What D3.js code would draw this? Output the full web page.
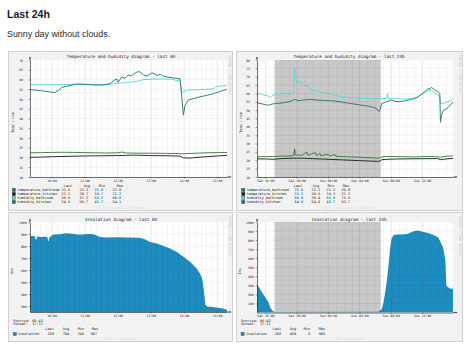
<!DOCTYPE html>
<html>
<head>
<meta charset="utf-8">
<title>Last 24h</title>
<script src="https://cdn.jsdelivr.net/npm/d3@7"></script>
<style>
  body { margin: 0; background: #fff; }
  svg { display: block; }
</style>
</head>
<body>
<svg id="page" width="474" height="348"></svg>
<script>
// ---------- data ----------
const pageTitle = "Last 24h";
const pageNote = "Sunny day without clouds.";

const seriesNames = ["temperature_bathroom", "temperature_kitchen", "humidity_bathroom", "humidity_kitchen"];
const seriesColors = ["#2a7a35", "#1a1a1a", "#4fdcdc", "#2d6f70"];
const insolationColor = "#1d8dbf";

const ticks6h = ["10:00", "11:00", "12:00", "13:00", "14:00", "15:00"];
const ticks24h = ["Sat 16:00", "Sat 20:00", "Sun 00:00", "Sun 04:00", "Sun 08:00", "Sun 12:00"];
const range6h = ["09:21", "15:18"];
const range24h = ["Sat 14:56", "Sun 15:56"];
const night = ["Sat 17:11", "Sun 06:43"];
const sunrise = "06:43";
const sunset = "17:11";

const yTicksTH6 = [10, 15, 20, 25, 30, 35, 40, 45, 50, 55, 60, 65, 70];
const yTicksTH24 = [10, 15, 20, 25, 30, 35, 40, 45, 50, 55, 60, 65, 70, 75, 80];
const yTicksIns6 = [300, 400, 500, 600, 700, 800, 900, 1000];
const yTicksIns24 = [100, 200, 300, 400, 500, 600, 700, 800, 900, 1000];

// legend statistics: Last, Avg, Min, Max
const stats6h = [
  ["22.6", "22.3", "21.9", "22.8"],
  ["21.1", "20.7", "19.7", "21.2"],
  ["56.9", "57.2", "53.2", "60.6"],
  ["54.9", "56.7", "41.7", "64.1"]
];
const stats24h = [
  ["22.6", "22.3", "21.3", "26.8"],
  ["21.1", "20.6", "19.3", "21.3"],
  ["56.9", "58.4", "53.9", "75.6"],
  ["54.9", "54.9", "42.7", "63.7"]
];
const insStats6h = ["268", "784", "246", "907"];
const insStats24h = ["268", "450", "5", "905"];

// --- last 6h ---
const tempBath6 = [["09:21",22.4],["09:40",22.5],["10:00",22.6],["10:20",22.7],["10:40",22.6],["11:00",22.5],["11:20",22.4],["11:40",22.3],["12:00",22.4],["12:08",22.8],["12:15",22.3],["12:40",22.2],["13:00",22.2],["13:30",22.1],["13:50",22.0],["14:00",21.9],["14:20",22.2],["14:40",22.4],["15:00",22.5],["15:18",22.6]];
const tempKitch6 = [["09:21",20.1],["09:40",20.2],["10:00",20.4],["10:30",20.6],["11:00",20.8],["11:30",20.9],["12:00",21.0],["12:30",21.2],["13:00",21.0],["13:30",20.9],["13:53",20.7],["13:59",19.8],["14:10",19.7],["14:30",20.2],["15:00",20.8],["15:18",21.1]];
const humBath6 = [["09:21",57.3],["10:00",57.3],["10:30",57.4],["11:00",57.5],["11:30",57.4],["11:46",57.5],["12:00",58.0],["12:20",58.6],["12:40",59.3],["12:47",60.0],["13:00",60.2],["13:20",60.3],["13:40",60.2],["13:44",59.6],["13:53",59.2],["13:56",53.2],["14:00",54.0],["14:08",54.6],["14:30",54.8],["14:54",55.2],["14:58",56.4],["15:18",56.9]];
const humKitch6 = [["09:21",54.8],["09:40",54.3],["09:57",53.6],["10:06",53.3],["10:12",54.2],["10:18",55.9],["10:27",56.5],["10:45",57.7],["10:58",57.6],["11:16",57.2],["11:34",57.2],["11:46",57.9],["11:52",59.3],["11:58",60.3],["12:01",58.6],["12:07",61.3],["12:13",60.6],["12:19",62.3],["12:25",62.0],["12:34",63.7],["12:39",64.1],["12:47",62.3],["12:53",61.7],["13:02",63.4],["13:06",63.0],["13:11",62.0],["13:17",62.7],["13:23",61.7],["13:29",61.3],["13:41",60.8],["13:53",60.3],["13:56",51.1],["13:59",41.7],["14:02",46.8],["14:08",49.4],["14:17",50.2],["14:29",51.1],["14:42",51.9],["14:54",52.8],["15:03",53.6],["15:12",54.5],["15:18",54.9]];
const ins6 = [["09:21",881],["09:27",885],["09:30",878],["09:32",848],["09:34",880],["09:42",875],["09:48",880],["09:53",870],["09:54",834],["09:56",870],["10:03",895],["10:15",897],["10:27",907],["10:40",900],["10:51",893],["11:00",897],["11:10",900],["11:16",897],["11:28",875],["11:40",870],["12:00",872],["12:20",870],["12:38",868],["12:47",860],["12:59",834],["13:11",820],["13:23",800],["13:35",780],["13:47",750],["13:59",710],["14:11",668],["14:23",612],["14:29",570],["14:33",530],["14:36",432],["14:39",308],["14:42",295],["14:54",290],["15:06",283],["15:12",277],["15:18",268]];

// --- last 24h ---
const tempBath24 = [["Sat 14:56",22.0],["Sat 16:00",22.2],["Sat 17:04",22.3],["Sat 18:00",22.5],["Sat 19:00",22.6],["Sat 19:36",22.8],["Sat 19:44",26.8],["Sat 19:50",23.2],["Sat 20:40",23.0],["Sat 21:18",24.8],["Sat 21:25",23.0],["Sat 22:21",24.6],["Sat 22:28",22.9],["Sat 22:59",24.0],["Sat 23:05",22.8],["Sun 00:03",23.6],["Sun 00:10",22.6],["Sun 00:54",23.4],["Sun 01:00",22.4],["Sun 02:00",22.2],["Sun 03:00",22.0],["Sun 04:00",21.8],["Sun 05:00",21.6],["Sun 06:00",21.4],["Sun 06:29",21.3],["Sun 06:50",22.0],["Sun 07:30",22.3],["Sun 08:30",22.2],["Sun 10:00",22.1],["Sun 11:00",22.0],["Sun 12:00",22.2],["Sun 13:00",22.3],["Sun 14:00",22.1],["Sun 14:20",21.8],["Sun 14:40",22.2],["Sun 15:18",22.5],["Sun 15:56",22.6]];
const tempKitch24 = [["Sat 14:56",20.8],["Sat 16:00",20.8],["Sat 17:04",20.6],["Sat 18:00",21.0],["Sat 19:00",21.2],["Sat 20:00",21.3],["Sat 21:00",21.2],["Sat 22:00",21.0],["Sat 23:00",20.8],["Sun 00:00",20.6],["Sun 01:00",20.4],["Sun 02:00",20.2],["Sun 03:00",20.0],["Sun 04:00",19.8],["Sun 05:00",19.6],["Sun 06:00",19.4],["Sun 06:29",19.3],["Sun 06:50",20.3],["Sun 07:30",20.6],["Sun 09:00",20.8],["Sun 11:00",20.9],["Sun 13:00",21.0],["Sun 14:00",21.0],["Sun 14:20",20.4],["Sun 14:40",20.6],["Sun 15:18",20.9],["Sun 15:56",21.1]];
const humBath24 = [["Sat 14:56",59.5],["Sat 15:09",59.9],["Sat 15:35",59.3],["Sat 16:00",58.9],["Sat 16:25",58.3],["Sat 16:38",57.5],["Sat 16:51",58.5],["Sat 17:16",59.5],["Sat 17:40",58.9],["Sat 18:05",59.9],["Sat 18:32",60.3],["Sat 19:00",59.3],["Sat 19:23",59.9],["Sat 19:36",60.9],["Sat 19:44",75.6],["Sat 19:50",69.9],["Sat 20:02",66.9],["Sat 20:14",66.5],["Sat 20:25",67.4],["Sat 20:40",65.9],["Sat 21:05",64.3],["Sat 21:18",65.0],["Sat 21:31",63.5],["Sat 21:56",61.9],["Sat 22:21",61.3],["Sat 22:34",62.2],["Sat 22:47",60.9],["Sat 23:38",60.5],["Sun 00:03",59.9],["Sun 00:54",58.9],["Sun 01:45",57.9],["Sun 02:10",57.9],["Sun 03:01",57.5],["Sun 04:00",57.1],["Sun 05:08",56.9],["Sun 06:11",56.7],["Sun 06:50",56.9],["Sun 07:30",57.0],["Sun 07:35",59.9],["Sun 07:41",56.9],["Sun 08:32",56.9],["Sun 09:48",56.7],["Sun 10:39",56.9],["Sun 11:17",57.5],["Sun 11:55",59.5],["Sun 12:20",60.7],["Sun 12:46",61.9],["Sun 13:11",61.5],["Sun 13:37",60.3],["Sun 14:02",58.9],["Sun 14:15",57.9],["Sun 14:20",54.0],["Sun 14:28",53.9],["Sun 14:40",54.0],["Sun 15:18",55.0],["Sun 15:44",55.9],["Sun 15:56",56.9]];
const humKitch24 = [["Sat 14:56",54.4],["Sat 15:35",53.8],["Sat 16:00",53.2],["Sat 16:25",53.0],["Sat 16:51",53.6],["Sat 17:16",54.0],["Sat 18:00",54.2],["Sat 18:32",54.6],["Sat 19:00",55.0],["Sat 19:23",55.8],["Sat 19:44",56.4],["Sat 20:02",56.0],["Sat 20:14",55.6],["Sat 20:40",56.0],["Sat 21:05",56.2],["Sat 21:56",56.4],["Sat 22:34",56.0],["Sat 23:38",55.8],["Sun 00:54",55.4],["Sun 01:45",54.8],["Sun 02:30",54.2],["Sun 03:26",53.6],["Sun 04:30",52.8],["Sun 05:08",52.4],["Sun 05:40",51.8],["Sun 06:11",51.0],["Sun 06:29",49.2],["Sun 06:40",50.5],["Sun 06:50",54.0],["Sun 07:28",55.0],["Sun 08:06",56.0],["Sun 08:32",55.2],["Sun 09:00",55.0],["Sun 09:48",55.6],["Sun 10:39",56.4],["Sun 11:04",57.0],["Sun 11:30",58.0],["Sun 11:55",59.4],["Sun 12:20",61.0],["Sun 12:46",63.0],["Sun 13:00",62.4],["Sun 13:11",63.7],["Sun 13:37",62.0],["Sun 14:02",61.0],["Sun 14:15",60.0],["Sun 14:20",42.7],["Sun 14:28",47.0],["Sun 14:40",49.5],["Sun 15:18",51.5],["Sun 15:44",53.8],["Sun 15:56",54.9]];
const ins24 = [["Sat 14:56",307],["Sat 15:09",285],["Sat 15:35",222],["Sat 16:00",167],["Sat 16:25",111],["Sat 16:38",55],["Sat 16:51",26],["Sat 17:04",11],["Sat 17:16",6],["Sat 17:40",5],["Sun 06:24",8],["Sun 06:50",37],["Sun 07:02",93],["Sun 07:15",204],["Sun 07:28",333],["Sun 07:41",500],["Sun 07:53",685],["Sun 08:06",815],["Sun 08:19",852],["Sun 08:32",860],["Sun 09:00",862],["Sun 09:48",866],["Sun 10:13",870],["Sun 10:39",889],["Sun 11:04",900],["Sun 11:30",905],["Sun 11:55",895],["Sun 12:46",878],["Sun 13:37",852],["Sun 14:02",830],["Sun 14:15",796],["Sun 14:40",722],["Sun 14:58",574],["Sun 15:05",296],["Sun 15:18",278],["Sun 15:44",260],["Sun 15:56",268]];

// ---------- helpers ----------
// "HH:MM" -> hours; "Sat HH:MM" / "Sun HH:MM" -> hours counted from Saturday 00:00
function hrs(s) {
  const parts = s.split(" ");
  const hm = parts[parts.length - 1].split(":");
  const day = parts.length > 1 && parts[0] === "Sun" ? 24 : 0;
  return day + (+hm[0]) + (+hm[1]) / 60;
}

const svg = d3.select("#page");
const MONO = '"DejaVu Sans Mono", "Liberation Mono", monospace';
const LEG = 3.5;

svg.append("text").attr("x", 7).attr("y", 18.3)
  .attr("font-family", '"Liberation Sans", Arial, Helvetica, sans-serif')
  .attr("font-weight", "bold").attr("font-size", 10.6).attr("fill", "#1e1e1e")
  .text(pageTitle);
svg.append("text").attr("x", 7).attr("y", 37.4)
  .attr("font-family", '"Liberation Sans", Arial, Helvetica, sans-serif')
  .attr("font-size", 8.9).attr("fill", "#2a2a2a")
  .text(pageNote);

let clipId = 0;

function drawPanel(c) {
  const g = svg.append("g");
  const [bx0, by0, bx1, by1] = c.box;
  const p = c.plot;

  // canvas
  g.append("rect").attr("x", bx0 + 0.5).attr("y", by0 + 0.5)
    .attr("width", bx1 - bx0 - 1).attr("height", by1 - by0 - 1)
    .attr("fill", "#f2f2f2").attr("stroke", "#d0d0d0").attr("stroke-width", 1);

  const x = d3.scaleLinear().domain(c.xRange.map(hrs)).range([p.left, p.right]);
  const y = d3.scaleLinear().domain(c.yDomain).range([p.bottom, p.top]);

  g.append("rect").attr("x", p.left).attr("y", p.top)
    .attr("width", p.right - p.left).attr("height", p.bottom - p.top)
    .attr("fill", "#ffffff");

  const id = "clip" + (clipId++);
  svg.append("clipPath").attr("id", id).append("rect")
    .attr("x", p.left).attr("y", p.top)
    .attr("width", p.right - p.left).attr("height", p.bottom - p.top);
  const plotG = g.append("g").attr("clip-path", `url(#${id})`);

  // night shading between sunset and sunrise
  if (c.shade) {
    const s0 = x(hrs(c.shade[0])), s1 = x(hrs(c.shade[1]));
    plotG.append("rect").attr("x", s0).attr("y", p.top)
      .attr("width", s1 - s0).attr("height", p.bottom - p.top)
      .attr("fill", "#c8c8c8");
  }

  // data
  if (c.area) {
    const area = d3.area()
      .x(d => x(hrs(d[0])))
      .y0(y(c.yDomain[0]))
      .y1(d => y(d[1]));
    plotG.append("path").datum(c.area).attr("d", area).attr("fill", insolationColor);
  }
  if (c.lines) {
    const line = d3.line().x(d => x(hrs(d[0]))).y(d => y(d[1]));
    c.lines.forEach((s, i) => {
      plotG.append("path").datum(s).attr("d", line)
        .attr("fill", "none").attr("stroke", seriesColors[i])
        .attr("stroke-width", 0.9).attr("stroke-linejoin", "round");
    });
  }

  // grid
  const t0 = hrs(c.xRange[0]), t1 = hrs(c.xRange[1]);
  const minor = d3.range(Math.ceil(t0 / c.minorStep) * c.minorStep, t1, c.minorStep);
  const gridG = g.append("g").attr("clip-path", `url(#${id})`);
  gridG.selectAll(".vminor").data(minor).join("line")
    .attr("x1", d => Math.round(x(d)) + 0.5).attr("x2", d => Math.round(x(d)) + 0.5)
    .attr("y1", p.top).attr("y2", p.bottom)
    .attr("stroke", "rgba(0,0,0,0.07)").attr("stroke-width", 0.6);
  const tickHours = c.xTicks.map(hrs);
  gridG.selectAll(".vmajor").data(tickHours).join("line")
    .attr("x1", d => x(d)).attr("x2", d => x(d))
    .attr("y1", p.top).attr("y2", p.bottom)
    .attr("stroke", "rgba(230,60,60,0.16)").attr("stroke-width", 0.6);
  gridG.selectAll(".hgrid").data(c.yTicks).join("line")
    .attr("x1", p.left).attr("x2", p.right)
    .attr("y1", d => y(d)).attr("y2", d => y(d))
    .attr("stroke", "rgba(0,0,0,0.08)").attr("stroke-width", 0.6);

  // axes
  const xAxis = d3.axisBottom(x).tickValues(tickHours)
    .tickFormat((d, i) => c.xTicks[i]).tickSize(1.5).tickSizeOuter(0).tickPadding(1.2);
  const xg = g.append("g").attr("transform", `translate(0,${p.bottom})`).call(xAxis);
  const yAxis = d3.axisLeft(y).tickValues(c.yTicks).tickFormat(d3.format("d"))
    .tickSize(1.5).tickSizeOuter(0).tickPadding(c.yPad);
  const yg = g.append("g").attr("transform", `translate(${p.left},0)`).call(yAxis);
  [xg, yg].forEach(a => {
    a.select(".domain").attr("stroke", "#333").attr("stroke-width", 0.7);
    a.selectAll(".tick line").attr("stroke", "#444").attr("stroke-width", 0.5);
    a.selectAll("text").attr("font-family", MONO).attr("font-size", 3.2).attr("fill", "#222");
  });
  // axis extensions with arrow heads
  g.append("line").attr("x1", p.right).attr("x2", p.right + 3)
    .attr("y1", p.bottom).attr("y2", p.bottom).attr("stroke", "#333").attr("stroke-width", 0.7);
  g.append("path").attr("d", `M${p.right + 4.5},${p.bottom} l-2,-1.1 v2.2 z`).attr("fill", "#333");
  g.append("line").attr("x1", p.left).attr("x2", p.left)
    .attr("y1", p.top).attr("y2", p.top - 2).attr("stroke", "#333").attr("stroke-width", 0.7);
  g.append("path").attr("d", `M${p.left},${p.top - 3.5} l-1.1,2 h2.2 z`).attr("fill", "#333");

  // title and vertical label
  g.append("text").attr("x", c.titleX).attr("y", c.titleY).attr("text-anchor", "middle")
    .attr("font-family", MONO).attr("font-size", 4.3).attr("fill", "#1a1a1a")
    .text(c.title);
  g.append("text").attr("transform", `translate(${c.yLabelX},${(p.top + p.bottom) / 2 + 4}) rotate(-90)`)
    .attr("text-anchor", "middle").attr("font-family", MONO).attr("font-size", 3.4)
    .attr("fill", "#222").text(c.yLabel);

  // side watermark
  g.append("text").attr("transform", `translate(${bx1 - 3.6},${by0 + 4}) rotate(90)`)
    .attr("font-family", MONO).attr("font-size", 3).attr("fill", "#c4c4c4")
    .text("RRDTOOL / TOBI OETIKER");

  return g;
}

function legendHeader(g, y, ends) {
  ["Last", "Avg", "Min", "Max"].forEach((h, i) => {
    g.append("text").attr("x", ends[i]).attr("y", y).attr("text-anchor", "end")
      .attr("font-family", MONO).attr("font-size", LEG).attr("fill", "#1a1a1a").text(h);
  });
}
function legendRow(g, y, sx, name, color, vals, ends) {
  g.append("rect").attr("x", sx).attr("y", y - 3).attr("width", 3.2).attr("height", 3.2)
    .attr("fill", color).attr("stroke", "#222").attr("stroke-width", 0.3);
  g.append("text").attr("x", sx + 5).attr("y", y).attr("font-family", MONO)
    .attr("font-size", LEG).attr("fill", "#1a1a1a").text(name);
  vals.forEach((v, i) => {
    g.append("text").attr("x", ends[i]).attr("y", y).attr("text-anchor", "end")
      .attr("font-family", MONO).attr("font-size", LEG).attr("fill", "#1a1a1a").text(v);
  });
}
function plainText(g, x, y, s, size, fill, anchor) {
  g.append("text").attr("x", x).attr("y", y).attr("text-anchor", anchor || "start")
    .attr("font-family", MONO).attr("font-size", size).attr("fill", fill)
    .style("white-space", "pre").text(s);
}

// ---------- Temperature and humidity, last 6h ----------
const g1 = drawPanel({
  box: [8, 51, 233, 211],
  plot: { left: 30, right: 227, top: 60, bottom: 177 },
  xRange: range6h, xTicks: ticks6h, minorStep: 1 / 6,
  yDomain: [10, 70], yTicks: yTicksTH6, yPad: 5.5,
  lines: [tempBath6, tempKitch6, humBath6, humKitch6],
  title: "Temperature and humidity diagram - last 6h", titleX: 121, titleY: 58,
  yLabel: "Temp / Hum", yLabelX: 13.5
});
legendHeader(g1, 186.6, [72, 90, 105, 123]);
seriesNames.forEach((n, i) => legendRow(g1, 191.4 + i * 4, 12.3, n, seriesColors[i], stats6h[i], [70, 88, 103, 121]));
plainText(g1, 121, 209, "Ser \u2022 temperature and humidity", 2.8, "#d6d6d6", "middle");

// ---------- Temperature and humidity, last 24h ----------
const g2 = drawPanel({
  box: [236, 51, 463, 211],
  plot: { left: 257, right: 453, top: 60, bottom: 177 },
  xRange: range24h, xTicks: ticks24h, minorStep: 1,
  yDomain: [10, 80], yTicks: yTicksTH24, yPad: 5.5,
  lines: [tempBath24, tempKitch24, humBath24, humKitch24],
  shade: night,
  title: "Temperature and humidity diagram - last 24h", titleX: 349, titleY: 58,
  yLabel: "Temp / Hum", yLabelX: 241.5
});
legendHeader(g2, 186.6, [302, 319, 334, 349]);
seriesNames.forEach((n, i) => legendRow(g2, 191.4 + i * 4, 241.7, n, seriesColors[i], stats24h[i], [303, 320, 335, 350]));
plainText(g2, 349, 209, "Ser \u2022 temperature and humidity", 2.8, "#d6d6d6", "middle");

// ---------- Insolation, last 6h ----------
const g3 = drawPanel({
  box: [8, 212, 233, 342],
  plot: { left: 30, right: 227, top: 222, bottom: 312 },
  xRange: range6h, xTicks: ticks6h, minorStep: 1 / 6,
  yDomain: [250, 1000], yTicks: yTicksIns6, yPad: 1.8,
  area: ins6,
  title: "Insolation diagram - last 6h", titleX: 121, titleY: 220.6,
  yLabel: "Ins", yLabelX: 12.5
});
plainText(g3, 13.3, 321.6, "Sunrise: " + sunrise, LEG, "#1a1a1a");
plainText(g3, 13.3, 325.2, "Sunset:  " + sunset, LEG, "#1a1a1a");
legendHeader(g3, 330.2, [54, 69, 84, 98]);
legendRow(g3, 335.4, 13.3, "insolation", insolationColor, insStats6h, [54, 69, 84, 97]);
plainText(g3, 121, 339.6, "Ser \u2022 insolation", 2.8, "#d6d6d6", "middle");

// ---------- Insolation, last 24h ----------
const g4 = drawPanel({
  box: [236, 212, 463, 342],
  plot: { left: 257, right: 453, top: 222, bottom: 312.5 },
  xRange: range24h, xTicks: ticks24h, minorStep: 1,
  yDomain: [0, 1000], yTicks: yTicksIns24, yPad: 1.8,
  area: ins24, shade: night,
  title: "Insolation diagram - last 24h", titleX: 349, titleY: 220.6,
  yLabel: "Ins", yLabelX: 240.5
});
plainText(g4, 241, 321.6, "Sunrise: " + sunrise, LEG, "#1a1a1a");
plainText(g4, 241, 325.2, "Sunset:  " + sunset, LEG, "#1a1a1a");
legendHeader(g4, 330.2, [281, 296, 310, 325]);
legendRow(g4, 335.4, 241, "insolation", insolationColor, insStats24h, [281, 296, 310, 325]);
plainText(g4, 349, 339.6, "Ser \u2022 insolation", 2.8, "#d6d6d6", "middle");
</script>
</body>
</html>
